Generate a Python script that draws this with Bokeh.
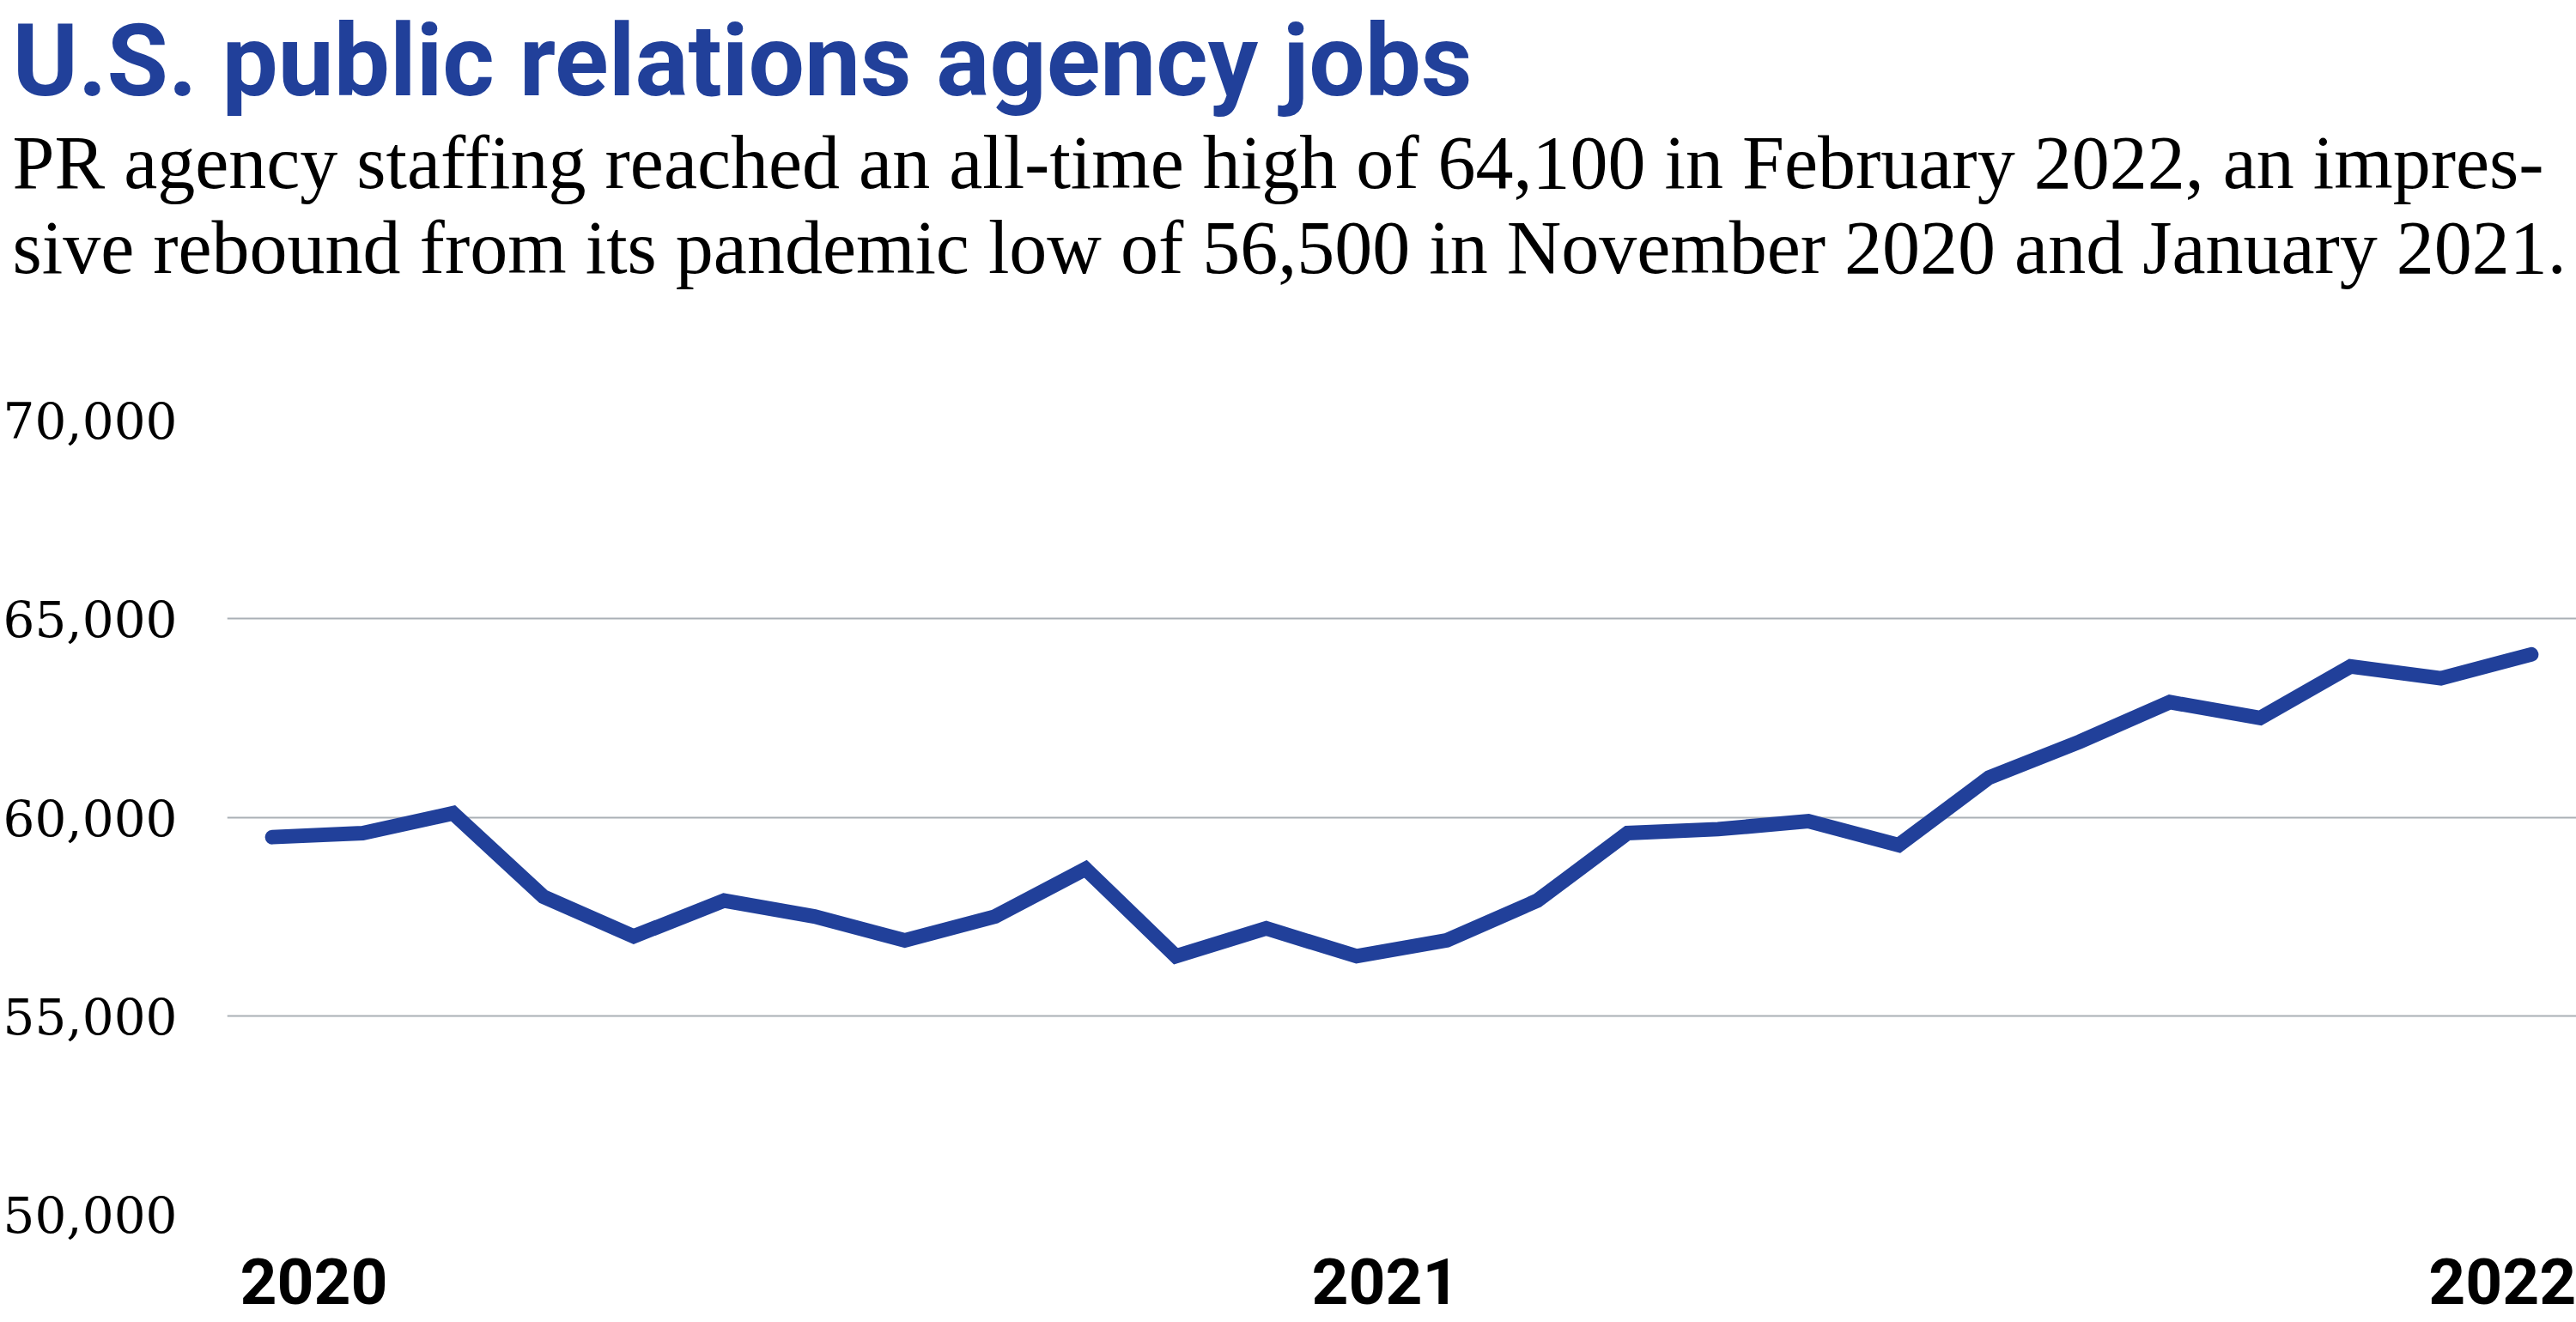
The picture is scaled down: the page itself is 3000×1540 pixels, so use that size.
from bokeh.plotting import figure
from bokeh.models import FixedTicker, Grid, Title, Range1d, NumeralTickFormatter
from bokeh.embed import file_html
from bokeh.resources import INLINE

# ---- data ----
months = ["Jan 2020", "Feb 2020", "Mar 2020", "Apr 2020", "May 2020", "Jun 2020",
          "Jul 2020", "Aug 2020", "Sep 2020", "Oct 2020", "Nov 2020", "Dec 2020",
          "Jan 2021", "Feb 2021", "Mar 2021", "Apr 2021", "May 2021", "Jun 2021",
          "Jul 2021", "Aug 2021", "Sep 2021", "Oct 2021", "Nov 2021", "Dec 2021",
          "Jan 2022", "Feb 2022"]
jobs = [59500, 59600, 60100, 58000, 57000, 57900, 57500, 56900, 57500, 58700,
        56500, 57200, 56500, 56900, 57900, 59600, 59700, 59900, 59300, 61000,
        61900, 62900, 62500, 63800, 63500, 64100]
y_ticks = [50000, 55000, 60000, 65000, 70000]
grid_ticks = [50000, 55000, 60000, 65000]
year_labels = ["2020", "2021", "2022"]
year_label_pos = [0.46, 12.32, 24.68]

title_text = "U.S. public relations agency jobs"
sub_line1 = "PR agency staffing reached an all-time high of 64,100 in February 2022, an impres-"
sub_line2 = "sive rebound from its pandemic low of 56,500 in November 2020 and January 2021."

BLUE = "#21409A"
x_idx = list(range(len(months)))

p = figure(width=3000, height=1540, output_backend="svg", toolbar_location=None,
           title=None,
           x_range=Range1d(-0.5, len(months) - 0.5), y_range=Range1d(50000, 70000),
           min_border_left=260, min_border_right=0, min_border_bottom=126,
           min_border_top=0)
p.outline_line_color = None
p.background_fill_color = "white"
p.border_fill_color = "white"
p.xgrid.visible = False
p.ygrid.visible = False

g = Grid(dimension=1, ticker=FixedTicker(ticks=grid_ticks),
         grid_line_color="#aab0b6", grid_line_width=2)
p.add_layout(g)

p.line(x_idx, jobs, line_width=17, line_color=BLUE, line_cap="round", line_join="miter")

# y axis
p.yaxis.ticker = FixedTicker(ticks=y_ticks)
p.yaxis.formatter = NumeralTickFormatter(format="0,0")
p.yaxis.axis_line_color = None
p.yaxis.major_tick_line_color = None
p.yaxis.minor_tick_line_color = None
p.yaxis.major_label_standoff = 52
p.yaxis.major_label_text_font = "DejaVu Serif"
p.yaxis.major_label_text_font_size = "58px"
p.yaxis.major_label_text_color = "black"

# x axis
p.xaxis.ticker = FixedTicker(ticks=year_label_pos)
p.xaxis.major_label_overrides = {pos: lab for pos, lab in zip(year_label_pos, year_labels)}
p.xaxis.axis_line_color = None
p.xaxis.major_tick_line_color = None
p.xaxis.minor_tick_line_color = None
p.xaxis.major_label_standoff = 45
p.xaxis.major_label_text_font = "Roboto"
p.xaxis.major_label_text_font_style = "bold"
p.xaxis.major_label_text_font_size = "75px"
p.xaxis.major_label_text_color = "black"

# titles (added nearest-to-frame first)
spacer = Title(text=" ", text_font_size="1px", standoff=150)
t_sub2 = Title(text=sub_line2, align="left", offset=-250, text_font="Liberation Serif",
               text_font_style="normal", text_font_size="88px", text_color="black",
               standoff=0)
t_sub1 = Title(text=sub_line1, align="left", offset=-250, text_font="Liberation Serif",
               text_font_style="normal", text_font_size="88px", text_color="black",
               standoff=0)
t_main = Title(text=title_text, align="left", offset=-250, text_font="Roboto",
               text_font_style="bold", text_font_size="116px", text_color=BLUE,
               standoff=0)
p.add_layout(spacer, "above")
p.add_layout(t_sub2, "above")
p.add_layout(t_sub1, "above")
p.add_layout(t_main, "above")

open("out.html", "w").write(file_html(p, INLINE))
